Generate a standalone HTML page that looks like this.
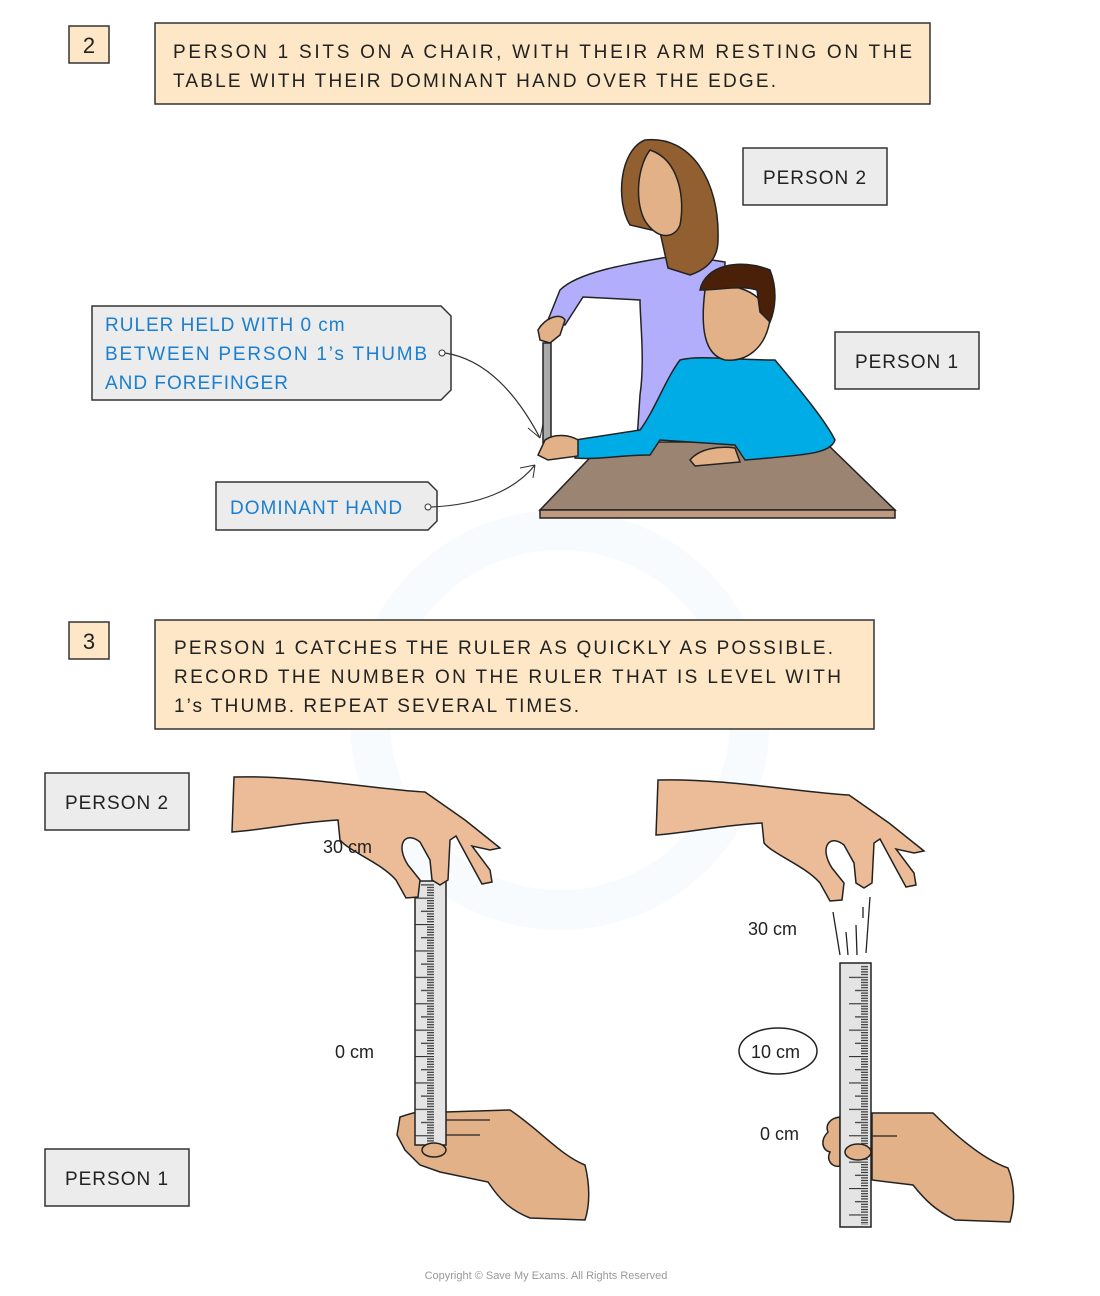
<!DOCTYPE html>
<html><head><meta charset="utf-8"><style>
html,body{margin:0;padding:0;background:#fff;}
svg{display:block;}
text{font-family:"Liberation Sans",sans-serif;}
</style></head><body>
<svg width="1100" height="1296" viewBox="0 0 1100 1296" xmlns="http://www.w3.org/2000/svg">
<defs>
<pattern id="tk" x="0" y="0" width="31" height="26.4" patternUnits="userSpaceOnUse">
<g stroke="#333" stroke-width="1.2">
<line x1="12" y1="0.5" x2="31" y2="0.5"/>
<line x1="24" y1="3.1" x2="31" y2="3.1"/><line x1="24" y1="5.7" x2="31" y2="5.7"/>
<line x1="24" y1="8.3" x2="31" y2="8.3"/><line x1="24" y1="10.9" x2="31" y2="10.9"/>
<line x1="18" y1="13.7" x2="31" y2="13.7"/>
<line x1="24" y1="16.3" x2="31" y2="16.3"/><line x1="24" y1="18.9" x2="31" y2="18.9"/>
<line x1="24" y1="21.5" x2="31" y2="21.5"/><line x1="24" y1="24.1" x2="31" y2="24.1"/>
</g></pattern>
</defs>
<circle cx="560" cy="720" r="190" fill="none" stroke="#f8fbfd" stroke-width="40"/>

<rect x="69" y="26" width="40" height="37" fill="#fde7c6" stroke="#333" stroke-width="1.5"/>
<text x="89" y="53" font-size="22" text-anchor="middle" fill="#222">2</text>
<rect x="155" y="23" width="775" height="81" fill="#fde7c6" stroke="#333" stroke-width="1.5"/>
<text x="173" y="58" font-size="19" fill="#222" letter-spacing="1" textLength="740">PERSON 1 SITS ON A CHAIR, WITH THEIR ARM RESTING ON THE</text>
<text x="173" y="87" font-size="19" fill="#222" letter-spacing="1" textLength="604">TABLE WITH THEIR DOMINANT HAND OVER THE EDGE.</text>

<rect x="743" y="148" width="144" height="57" fill="#ececec" stroke="#333" stroke-width="1.5"/>
<text x="815" y="184" font-size="19" text-anchor="middle" fill="#222" letter-spacing="1">PERSON 2</text>
<rect x="835" y="332" width="144" height="57" fill="#ececec" stroke="#333" stroke-width="1.5"/>
<text x="907" y="368" font-size="19" text-anchor="middle" fill="#222" letter-spacing="1">PERSON 1</text>

<path d="M92,306 H441 L451,316 V390 L441,400 H92 Z" fill="#ececec" stroke="#333" stroke-width="1.5"/>
<text x="105" y="331" font-size="19" fill="#1a7fd0" letter-spacing="1">RULER HELD WITH 0 cm</text>
<text x="105" y="360" font-size="19" fill="#1a7fd0" letter-spacing="1" textLength="323">BETWEEN PERSON 1’s THUMB</text>
<text x="105" y="389" font-size="19" fill="#1a7fd0" letter-spacing="1">AND FOREFINGER</text>
<path d="M216,482 H428 L437,491 V521 L428,530 H216 Z" fill="#ececec" stroke="#333" stroke-width="1.5"/>
<text x="230" y="514" font-size="19" fill="#1a7fd0" letter-spacing="1">DOMINANT HAND</text>
<circle cx="442" cy="353" r="3" fill="#fff" stroke="#333"/>
<path d="M445,353 C490,360 520,400 540,438" fill="none" stroke="#333" stroke-width="1.2"/>
<path d="M528,428 L540,438 M543,424 L540,438" stroke="#333" fill="none"/>
<circle cx="428" cy="507" r="3" fill="#fff" stroke="#333"/>
<path d="M431,507 C480,505 515,490 535,465" fill="none" stroke="#333" stroke-width="1.2"/>
<path d="M520,468 L535,465 M533,478 L535,465" stroke="#333" fill="none"/>

<path d="M540,510 L605,442 L825,442 L895,510 Z" fill="#9c8473" stroke="#222" stroke-width="1.5"/>
<rect x="540" y="510" width="355" height="8" fill="#c09a80" stroke="#222" stroke-width="1.5"/>
<path d="M560,290 C580,270 640,262 680,255 L725,262 L720,440 L637,440 L640,395 C645,360 640,320 640,300 L583,297 L565,325 L548,320 Z" fill="#b3aefc" stroke="#222" stroke-width="1.5"/>
<path d="M645,140 C690,135 720,180 718,240 C718,260 705,270 690,275 L668,268 L660,232 L630,225 C615,200 620,150 645,140 Z" fill="#925f31" stroke="#222" stroke-width="1.5"/>
<path d="M650,150 C680,160 685,200 680,225 C675,238 660,240 648,225 C635,210 635,170 650,150 Z" fill="#e3b187" stroke="#222" stroke-width="1.5"/>
<path d="M538,330 C545,318 560,312 565,320 L560,335 L550,343 L540,340 Z" fill="#e3b187" stroke="#222" stroke-width="1.5"/>
<rect x="543" y="343" width="8" height="100" fill="#aaa" stroke="#222" stroke-width="1.5"/>
<path d="M680,360 C700,355 730,360 775,360 C800,390 825,420 835,440 C830,455 800,455 745,460 L735,445 L660,440 L650,455 C620,455 600,460 575,458 L575,440 L640,430 C655,410 665,380 680,360 Z" fill="#00ace6" stroke="#222" stroke-width="1.5"/>
<path d="M705,290 C730,280 765,290 770,320 C765,350 745,362 725,360 C705,355 700,330 705,290 Z" fill="#e3b187" stroke="#222" stroke-width="1.5"/>
<path d="M700,290 C705,265 740,258 770,270 C778,290 775,310 770,322 L760,312 L757,290 C740,285 720,290 700,290 Z" fill="#4a2008" stroke="#222" stroke-width="1.5"/>
<path d="M545,440 C555,433 570,435 578,440 L578,456 L548,460 L538,455 Z" fill="#e3b187" stroke="#222" stroke-width="1.5"/>
<path d="M690,460 C700,448 720,446 735,448 L740,462 L695,466 Z" fill="#e3b187" stroke="#222" stroke-width="1.5"/>

<rect x="69" y="622" width="40" height="37" fill="#fde7c6" stroke="#333" stroke-width="1.5"/>
<text x="89" y="649" font-size="22" text-anchor="middle" fill="#222">3</text>
<rect x="155" y="620" width="719" height="109" fill="#fde7c6" stroke="#333" stroke-width="1.5"/>
<text x="174" y="654" font-size="19" fill="#222" letter-spacing="1" textLength="660">PERSON 1 CATCHES THE RULER AS QUICKLY AS POSSIBLE.</text>
<text x="174" y="683" font-size="19" fill="#222" letter-spacing="1" textLength="668">RECORD THE NUMBER ON THE RULER THAT IS LEVEL WITH</text>
<text x="174" y="712" font-size="19" fill="#222" letter-spacing="1" textLength="406">1’s THUMB. REPEAT SEVERAL TIMES.</text>

<rect x="45" y="773" width="144" height="57" fill="#ececec" stroke="#333" stroke-width="1.5"/>
<text x="117" y="809" font-size="19" text-anchor="middle" fill="#222" letter-spacing="1">PERSON 2</text>
<rect x="45" y="1149" width="144" height="57" fill="#ececec" stroke="#333" stroke-width="1.5"/>
<text x="117" y="1185" font-size="19" text-anchor="middle" fill="#222" letter-spacing="1">PERSON 1</text>

<!-- left set -->
<path d="M400,1117 C420,1110 430,1110 445,1112 L510,1110 C540,1130 560,1155 585,1165 C590,1185 590,1205 585,1220 L530,1218 C510,1210 500,1200 488,1182 L440,1172 L420,1165 L405,1150 L397,1135 Z" fill="#e3b187" stroke="#222" stroke-width="1.5"/>
<rect x="415" y="881" width="31" height="264" fill="#e4e4e4" stroke="#222" stroke-width="1.5"/>
<rect x="415" y="883" width="31" height="260" fill="url(#tk)"/>
<path d="M446,1120 L490,1120 M446,1135 L480,1135" stroke="#222" stroke-width="1.2"/>
<ellipse cx="434" cy="1150" rx="12" ry="7" fill="#e3b187" stroke="#222" stroke-width="1.5"/>
<g id="up">
<path d="M234,777 C300,775 380,790 425,792 L465,820 L500,848 L490,850 L472,846 L490,870 L492,882 L482,884 L470,862 L456,836 L450,840 L448,880 L440,885 L432,880 L430,860 L420,842 C405,830 395,845 408,865 L420,880 L418,897 L406,898 L396,880 C380,862 350,852 340,840 L338,820 C300,822 262,830 232,832 Z" fill="#ebbc97" stroke="#222" stroke-width="1.5"/>
</g>
<text x="323" y="853" font-size="18" fill="#222">30 cm</text>
<text x="335" y="1058" font-size="18" fill="#222">0 cm</text>

<!-- right set -->
<use href="#up" transform="translate(424,3)"/>
<g stroke="#222" stroke-width="1.3"><line x1="833" y1="912" x2="840" y2="955"/><line x1="846" y1="932" x2="848" y2="955"/><line x1="856" y1="925" x2="857" y2="955"/><line x1="870" y1="897" x2="866" y2="953"/><line x1="863" y1="907" x2="863" y2="918"/></g>
<path d="M872,1113 L933,1113 C960,1140 985,1160 1008,1168 C1015,1185 1015,1205 1010,1222 L955,1220 C935,1210 925,1200 913,1185 L872,1180 Z" fill="#e3b187" stroke="#222" stroke-width="1.5"/>
<path d="M840,1117 C830,1118 825,1125 828,1132 C820,1140 822,1150 830,1152 C826,1160 832,1168 840,1166 Z" fill="#e3b187" stroke="#222" stroke-width="1.5"/>
<rect x="840" y="963" width="31" height="264" fill="#e4e4e4" stroke="#222" stroke-width="1.5"/>
<rect x="840" y="965" width="31" height="260" fill="url(#tk)"/>
<path d="M871,1136 L897,1136" stroke="#222" stroke-width="1.2"/>
<ellipse cx="858" cy="1152" rx="13" ry="8" fill="#e3b187" stroke="#222" stroke-width="1.5"/>
<text x="748" y="935" font-size="18" fill="#222">30 cm</text>
<ellipse cx="778" cy="1051" rx="39" ry="23" fill="none" stroke="#222" stroke-width="1.5"/>
<text x="751" y="1058" font-size="18" fill="#222">10 cm</text>
<text x="760" y="1140" font-size="18" fill="#222">0 cm</text>

<text x="546" y="1279" font-size="11" fill="#999" text-anchor="middle">Copyright © Save My Exams. All Rights Reserved</text>
</svg>
</body></html>
